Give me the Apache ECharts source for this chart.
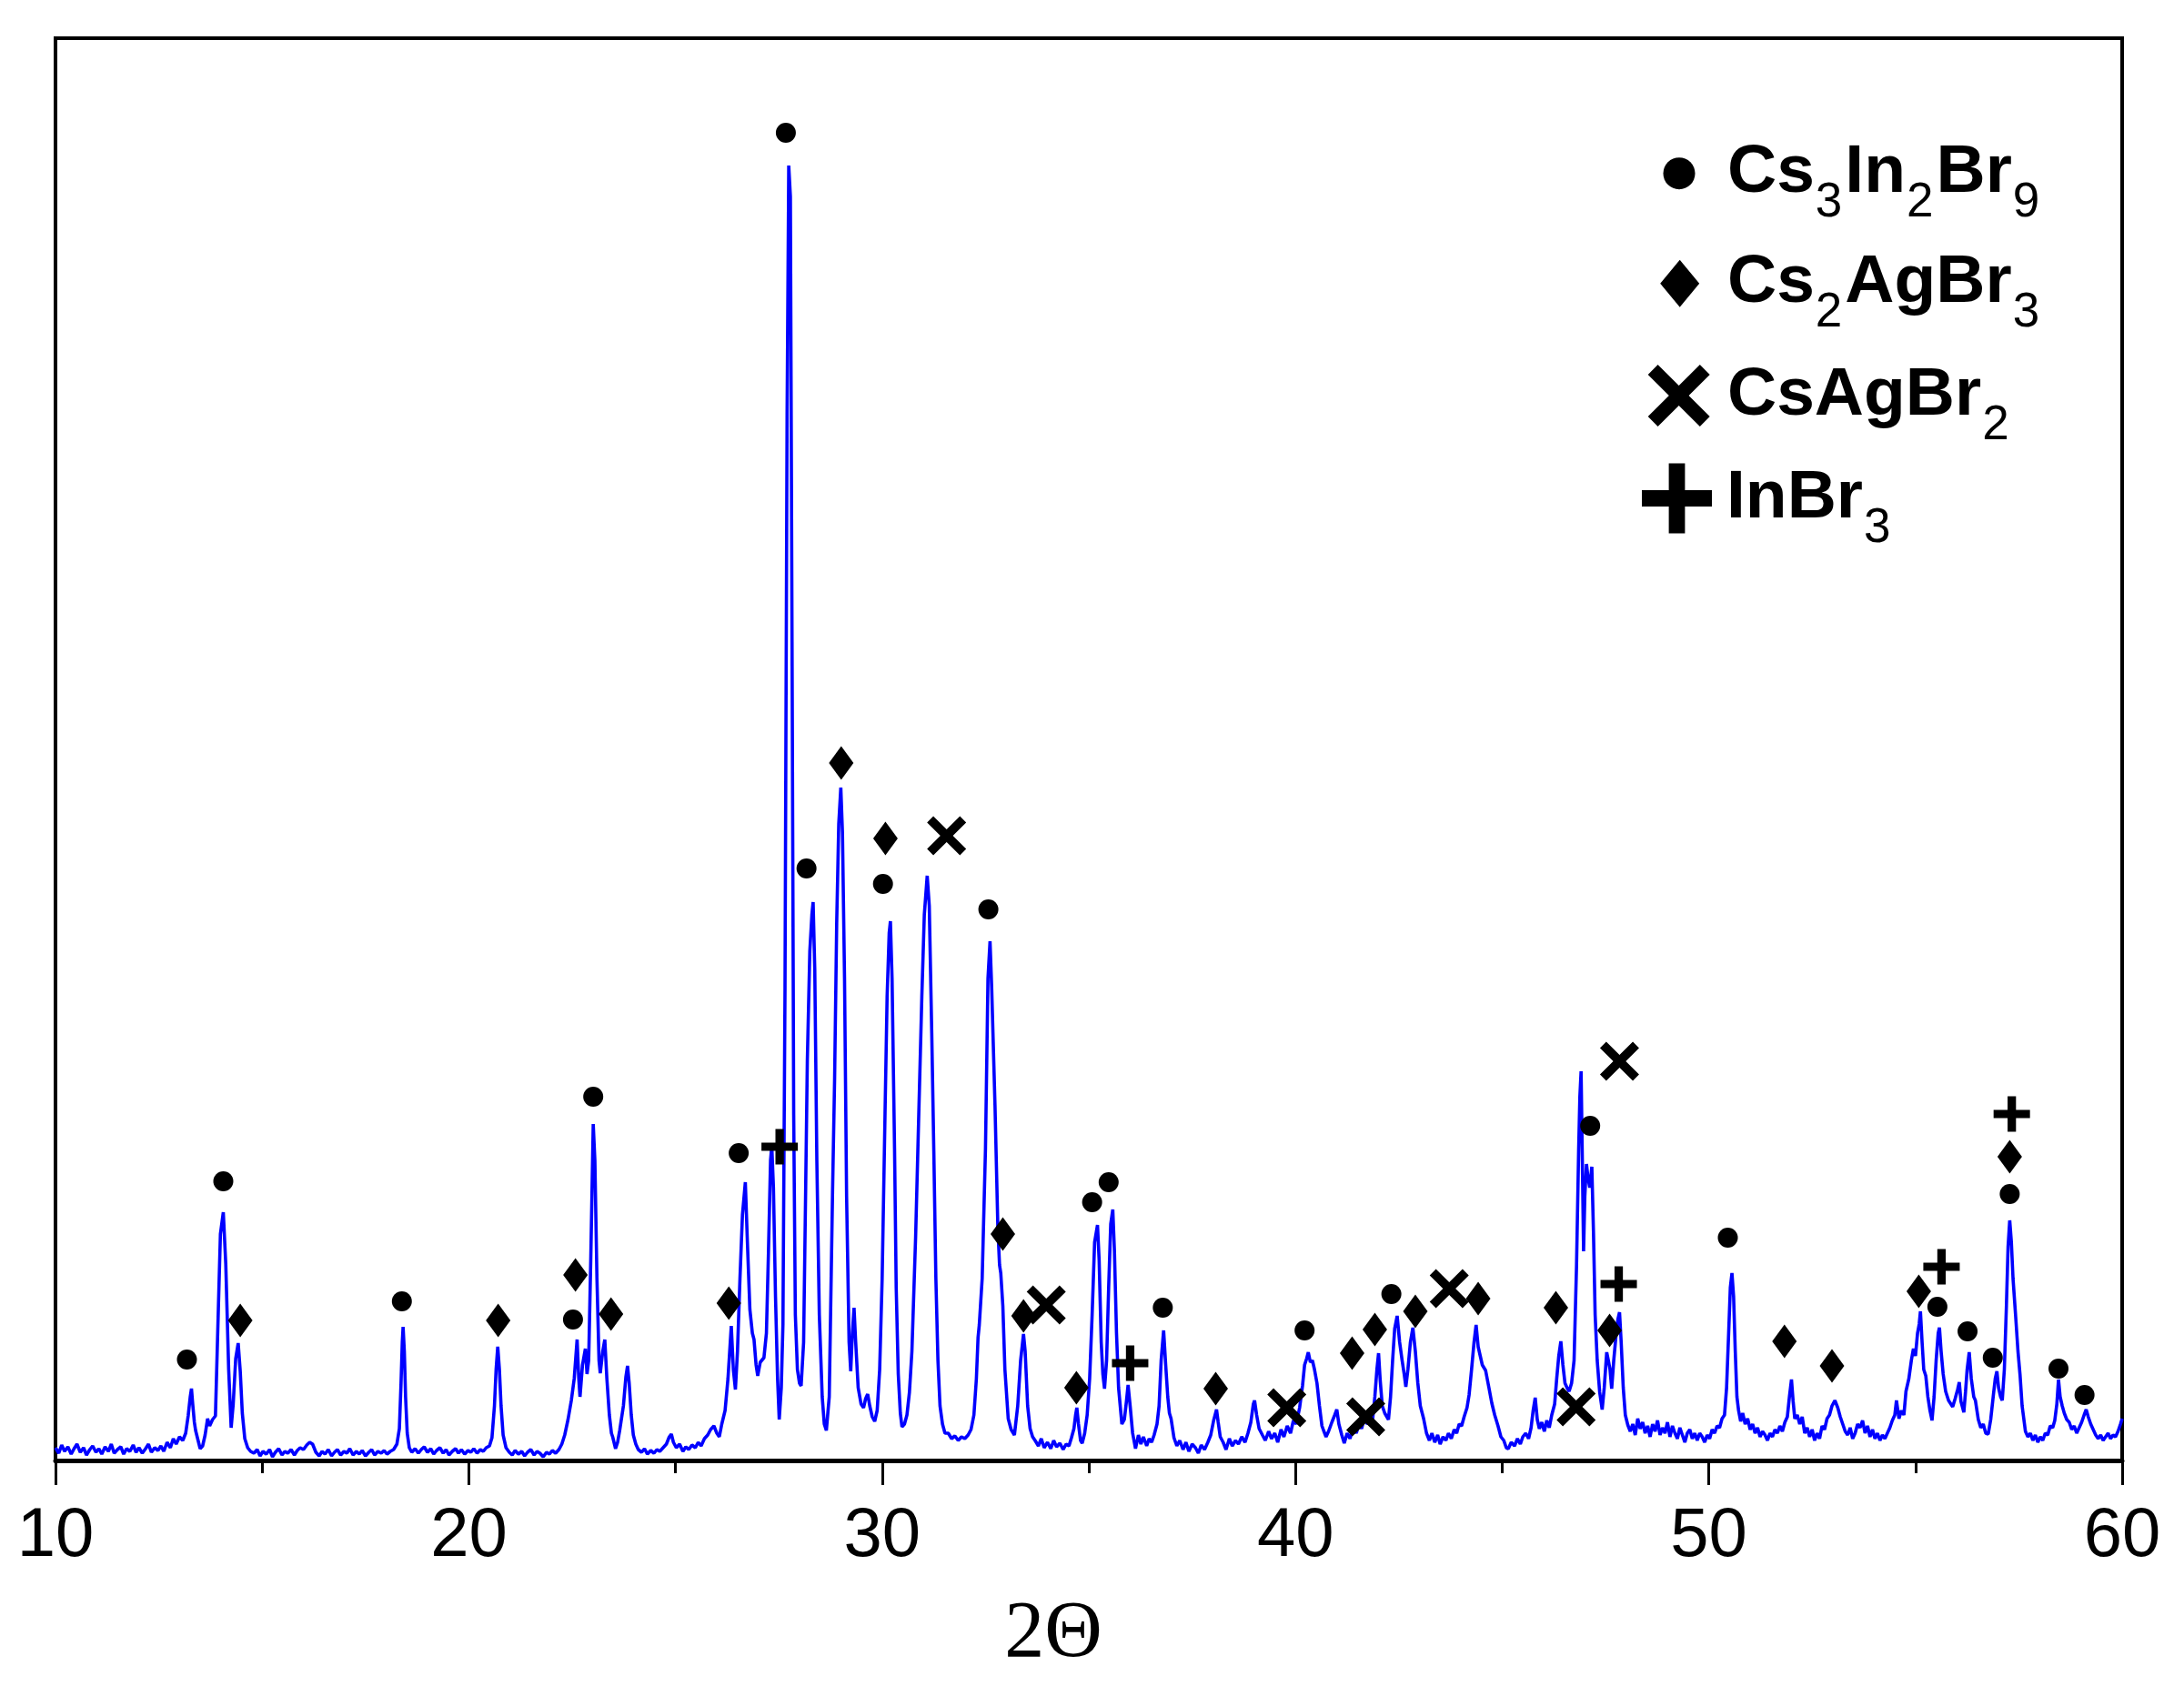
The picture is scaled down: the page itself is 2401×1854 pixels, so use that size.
<!DOCTYPE html>
<html>
<head>
<meta charset="utf-8">
<script src="https://cdn.jsdelivr.net/npm/echarts/dist/echarts.min.js"></script>
<style>html,body{margin:0;padding:0;background:#fff}#chart{width:2401px;height:1854px}</style>
</head>
<body>
<div id="chart"></div>
<script>
// ---- X-ray diffraction pattern, [2theta, intensity] ----
const pattern10to15 = [[10.0,14],[10.08,8],[10.15,17],[10.22,10],[10.3,15],[10.38,7],[10.45,13],[10.52,18],[10.6,9],[10.68,14],[10.75,6],[10.83,12],[10.9,16],[10.98,9],[11.05,13],[11.12,7],[11.2,15],[11.28,10],[11.35,18],[11.42,8],[11.5,12],[11.58,15],[11.65,7],[11.72,13],[11.8,10],[11.88,17],[11.95,9],[12.02,14],[12.1,8],[12.18,13],[12.25,18],[12.32,9],[12.4,14],[12.48,11],[12.55,16],[12.62,10],[12.7,20],[12.78,14],[12.85,24],[12.92,18],[13.0,26],[13.08,22],[13.15,30],[13.21,49],[13.26,70],[13.29,79],[13.32,62],[13.36,42],[13.39,33],[13.45,22],[13.5,13],[13.56,16],[13.62,28],[13.68,46],[13.73,38],[13.8,45],[13.87,49],[13.94,166],[13.99,249],[14.06,273],[14.12,216],[14.19,100],[14.25,36],[14.3,62],[14.36,112],[14.42,129],[14.47,98],[14.52,52],[14.58,24],[14.65,14],[14.72,10],[14.8,8],[14.88,12],[14.95,5]];
const pattern15to21 = [[15.02,10],[15.1,7],[15.18,12],[15.25,4],[15.32,9],[15.4,13],[15.48,6],[15.55,10],[15.62,8],[15.7,12],[15.78,6],[15.85,11],[15.92,14],[16.0,12],[16.08,17],[16.15,20],[16.22,18],[16.3,9],[16.38,5],[16.45,10],[16.52,7],[16.6,12],[16.68,5],[16.75,9],[16.82,12],[16.9,6],[16.98,10],[17.05,8],[17.12,13],[17.2,6],[17.28,10],[17.35,7],[17.42,11],[17.5,5],[17.58,9],[17.65,12],[17.72,6],[17.8,10],[17.88,8],[17.95,11],[18.02,7],[18.1,10],[18.18,12],[18.26,18],[18.32,35],[18.36,85],[18.39,130],[18.41,147],[18.44,120],[18.47,70],[18.51,30],[18.56,14],[18.62,9],[18.7,13],[18.78,8],[18.85,12],[18.92,15],[19.0,9],[19.08,13],[19.15,7],[19.22,11],[19.3,14],[19.38,8],[19.45,12],[19.52,6],[19.6,10],[19.68,13],[19.75,8],[19.82,12],[19.9,7],[19.98,11],[20.05,9],[20.12,13],[20.2,8],[20.28,12],[20.35,10],[20.42,14],[20.5,16],[20.56,25],[20.62,60],[20.66,100],[20.7,125],[20.74,100],[20.78,60],[20.83,28],[20.9,14],[20.98,9]];
const pattern21to26 = [[21.05,6],[21.12,11],[21.2,7],[21.28,10],[21.35,5],[21.42,9],[21.5,12],[21.58,6],[21.65,10],[21.72,8],[21.8,4],[21.88,9],[21.95,7],[22.02,11],[22.1,8],[22.18,12],[22.25,18],[22.32,28],[22.4,45],[22.48,66],[22.55,90],[22.62,133],[22.66,90],[22.69,70],[22.75,105],[22.82,123],[22.86,95],[22.9,110],[22.95,220],[23.01,370],[23.05,330],[23.1,200],[23.15,110],[23.18,96],[23.24,120],[23.29,133],[23.34,90],[23.4,50],[23.45,30],[23.48,26],[23.55,13],[23.6,20],[23.65,33],[23.74,60],[23.8,92],[23.84,104],[23.88,85],[23.93,50],[23.98,28],[24.04,18],[24.1,12],[24.18,9],[24.25,13],[24.32,7],[24.4,11],[24.48,8],[24.55,12],[24.62,10],[24.7,14],[24.78,18],[24.85,26],[24.9,29],[24.95,20],[25.02,14],[25.1,18],[25.18,10],[25.25,15],[25.32,12],[25.4,17],[25.48,14],[25.55,20],[25.62,16],[25.7,24],[25.78,28],[25.85,34],[25.93,38],[26.0,30],[26.06,26],[26.12,40]];
const pattern26to34 = [[26.2,55],[26.27,90],[26.35,148],[26.4,100],[26.45,78],[26.5,120],[26.56,200],[26.62,270],[26.69,306],[26.74,240],[26.8,166],[26.86,140],[26.9,133],[26.95,105],[26.99,93],[27.05,108],[27.14,113],[27.2,140],[27.25,230],[27.3,330],[27.33,346],[27.37,300],[27.42,180],[27.47,90],[27.51,45],[27.56,80],[27.6,150],[27.65,520],[27.7,1150],[27.74,1424],[27.78,1390],[27.82,900],[27.86,380],[27.9,160],[27.95,100],[28.0,85],[28.04,82],[28.1,130],[28.15,300],[28.19,440],[28.25,560],[28.3,600],[28.33,614],[28.37,540],[28.42,330],[28.48,160],[28.55,70],[28.6,40],[28.65,33],[28.72,70],[28.8,295],[28.85,420],[28.9,590],[28.95,700],[29.0,740],[29.04,690],[29.09,530],[29.14,290],[29.2,130],[29.24,98],[29.28,140],[29.32,168],[29.36,130],[29.42,80],[29.49,62],[29.55,58],[29.6,68],[29.65,73],[29.7,60],[29.76,48],[29.82,43],[29.88,55],[29.94,100],[30.0,200],[30.07,382],[30.12,510],[30.17,580],[30.2,593],[30.24,530],[30.3,343],[30.34,190],[30.39,95],[30.44,52],[30.48,37],[30.54,40],[30.6,50],[30.66,75],[30.72,120],[30.81,246],[30.88,370],[30.96,510],[31.02,600],[31.09,643],[31.14,610],[31.2,470],[31.25,340],[31.3,200],[31.35,110],[31.4,60],[31.46,40],[31.52,30],[31.6,30],[31.68,24],[31.76,27],[31.84,22],[31.92,26],[32.0,24],[32.08,28],[32.15,34],[32.22,50],[32.28,90],[32.32,135],[32.35,149],[32.42,200],[32.5,343],[32.56,530],[32.61,571],[32.65,520],[32.73,391],[32.8,255],[32.84,215],[32.87,206],[32.92,170],[32.97,100],[33.05,46],[33.12,34],[33.2,28],[33.28,60],[33.35,110],[33.42,139],[33.46,120],[33.52,60],[33.58,35],[33.64,26]];
const pattern34to41 = [[33.7,22],[33.78,16],[33.85,24],[33.92,14],[34.0,20],[34.08,13],[34.15,22],[34.22,15],[34.3,19],[34.38,12],[34.45,18],[34.52,16],[34.58,25],[34.64,35],[34.68,50],[34.71,58],[34.75,40],[34.8,22],[34.84,19],[34.9,30],[34.96,50],[35.02,90],[35.08,160],[35.14,240],[35.21,259],[35.25,220],[35.3,130],[35.34,95],[35.38,79],[35.43,110],[35.48,190],[35.53,260],[35.58,276],[35.62,230],[35.67,140],[35.72,80],[35.8,40],[35.86,45],[35.91,65],[35.95,83],[36.0,60],[36.06,30],[36.13,13],[36.2,28],[36.26,18],[36.32,26],[36.4,16],[36.46,24],[36.52,20],[36.58,28],[36.65,40],[36.7,60],[36.75,110],[36.81,143],[36.86,105],[36.91,70],[36.95,52],[36.99,46],[37.06,25],[37.13,16],[37.2,22],[37.28,12],[37.35,20],[37.42,10],[37.5,18],[37.58,14],[37.65,8],[37.72,17],[37.8,12],[37.88,20],[37.95,28],[38.02,44],[38.09,56],[38.13,42],[38.18,26],[38.25,20],[38.32,12],[38.4,24],[38.47,16],[38.55,22],[38.62,18],[38.7,26],[38.78,20],[38.85,30],[38.92,42],[38.98,62],[39.01,66],[39.06,50],[39.12,35],[39.2,28],[39.27,22],[39.35,32],[39.42,24],[39.5,30],[39.57,20],[39.65,34],[39.72,26],[39.8,38],[39.88,30],[39.95,44],[40.02,40],[40.1,58],[40.17,82],[40.22,105],[40.27,112],[40.31,119],[40.36,108],[40.41,110],[40.46,100],[40.52,85],[40.58,60],[40.64,38],[40.68,33],[40.74,26],[40.8,32],[40.88,42],[40.95,50],[41.0,56],[41.05,40],[41.12,28],[41.18,19],[41.25,30],[41.32,24],[41.4,38],[41.47,30],[41.54,40],[41.6,35],[41.67,48],[41.74,40],[41.8,45],[41.86,42],[41.92,70],[41.97,100],[42.01,118],[42.05,88],[42.1,60]];
const pattern42to48 = [[42.16,52],[42.25,45],[42.3,70],[42.35,110],[42.4,145],[42.46,159],[42.52,130],[42.58,110],[42.63,95],[42.67,81],[42.72,100],[42.78,130],[42.84,146],[42.9,120],[42.96,85],[43.02,60],[43.1,46],[43.17,30],[43.24,22],[43.3,30],[43.37,20],[43.44,28],[43.5,18],[43.57,26],[43.64,22],[43.7,30],[43.77,24],[43.84,34],[43.9,30],[43.96,40],[44.02,38],[44.08,48],[44.15,58],[44.2,72],[44.26,100],[44.32,130],[44.37,149],[44.42,125],[44.47,115],[44.52,105],[44.6,99],[44.68,80],[44.75,63],[44.82,50],[44.9,38],[44.97,26],[45.04,22],[45.1,14],[45.15,13],[45.22,20],[45.3,16],[45.37,24],[45.44,18],[45.5,26],[45.57,30],[45.64,24],[45.7,36],[45.75,55],[45.8,69],[45.85,45],[45.9,35],[45.96,42],[46.02,32],[46.08,44],[46.14,36],[46.2,50],[46.27,62],[46.32,90],[46.37,115],[46.42,131],[46.47,105],[46.52,85],[46.57,80],[46.62,76],[46.68,85],[46.74,110],[46.8,215],[46.85,340],[46.88,400],[46.91,428],[46.94,330],[46.97,230],[47.0,290],[47.04,326],[47.08,310],[47.12,300],[47.17,323],[47.21,250],[47.25,160],[47.3,110],[47.36,75],[47.42,56],[47.47,80],[47.53,119],[47.57,110],[47.61,100],[47.65,79],[47.7,110],[47.76,140],[47.8,155],[47.84,163],[47.88,130],[47.93,80],[47.98,50],[48.04,39],[48.1,32]];
const pattern48to54 = [[48.16,40],[48.22,28],[48.28,46],[48.34,35],[48.4,42],[48.46,30],[48.52,38],[48.58,26],[48.64,40],[48.7,32],[48.76,44],[48.82,28],[48.88,36],[48.94,30],[49.0,42],[49.06,26],[49.12,38],[49.18,30],[49.24,24],[49.3,36],[49.36,28],[49.42,20],[49.48,30],[49.54,34],[49.6,24],[49.66,30],[49.72,22],[49.78,30],[49.84,26],[49.9,20],[49.96,28],[50.02,24],[50.08,34],[50.14,30],[50.2,38],[50.26,36],[50.32,46],[50.38,50],[50.43,80],[50.48,140],[50.52,190],[50.56,206],[50.6,180],[50.64,120],[50.68,70],[50.72,55],[50.77,43],[50.82,52],[50.88,40],[50.94,46],[51.0,34],[51.06,40],[51.12,30],[51.18,36],[51.24,26],[51.3,32],[51.36,28],[51.42,22],[51.48,30],[51.54,26],[51.6,34],[51.66,30],[51.72,38],[51.78,32],[51.84,42],[51.9,48],[51.95,70],[52.0,89],[52.04,65],[52.08,46],[52.14,50],[52.2,40],[52.26,48],[52.32,30],[52.38,36],[52.44,26],[52.5,34],[52.56,22],[52.62,30],[52.68,24],[52.74,38],[52.8,34],[52.86,46],[52.92,50],[52.98,60],[53.05,66],[53.12,58],[53.18,48],[53.24,40],[53.3,32],[53.36,28],[53.42,36],[53.48,24],[53.54,30],[53.6,40],[53.66,36],[53.72,44],[53.78,30],[53.84,38],[53.9,26],[53.96,34],[54.02,24],[54.08,30],[54.14,22],[54.2,28],[54.26,24],[54.32,30],[54.38,36],[54.44,44],[54.5,50]];
const pattern54to60 = [[54.54,66],[54.6,46],[54.66,55],[54.72,50],[54.77,76],[54.84,90],[54.9,110],[54.95,123],[55.0,115],[55.05,140],[55.09,150],[55.12,164],[55.16,130],[55.2,100],[55.25,93],[55.3,70],[55.35,55],[55.4,44],[55.45,70],[55.5,110],[55.55,140],[55.58,146],[55.62,120],[55.67,95],[55.73,76],[55.8,66],[55.9,59],[55.96,68],[56.02,78],[56.06,86],[56.1,65],[56.17,53],[56.21,75],[56.25,100],[56.3,119],[56.35,90],[56.41,70],[56.45,66],[56.52,45],[56.58,36],[56.64,40],[56.7,30],[56.76,29],[56.82,45],[56.88,70],[56.93,90],[56.97,98],[57.01,80],[57.06,70],[57.1,66],[57.15,100],[57.2,170],[57.24,235],[57.28,264],[57.32,240],[57.36,200],[57.42,161],[57.48,120],[57.53,94],[57.58,60],[57.66,32],[57.72,26],[57.78,30],[57.84,22],[57.9,28],[57.96,20],[58.02,26],[58.08,22],[58.14,30],[58.2,28],[58.26,38],[58.32,36],[58.37,44],[58.42,62],[58.46,89],[58.5,70],[58.55,60],[58.6,52],[58.66,45],[58.72,42],[58.78,34],[58.84,38],[58.9,30],[58.96,36],[59.02,42],[59.08,50],[59.13,56],[59.18,48],[59.24,40],[59.3,34],[59.36,28],[59.42,24],[59.48,28],[59.54,22],[59.6,26],[59.66,30],[59.72,24],[59.78,28],[59.84,26],[59.9,32],[59.96,40],[60.0,46]];

// ---- Phase markers, [2theta, intensity] ----
const cs3in2br9Peaks = [[13.18,111],[14.06,307],[18.38,175],[22.52,155],[23.01,400],[26.53,338],[27.67,1460],[28.17,651],[30.02,634],[32.57,606],[35.08,284],[35.48,306],[36.79,168],[40.22,143],[42.32,183],[47.13,368],[50.46,245],[55.53,169],[56.26,142],[56.87,113],[57.28,293],[58.46,101],[59.09,72]];
const cs2agbr3Peaks = [[14.47,154],[20.71,154],[22.58,204],[23.44,161],[26.29,173],[29.01,767],[30.08,684],[32.92,249],[33.42,159],[34.70,80],[38.07,79],[41.37,118],[41.92,144],[42.90,164],[44.42,178],[46.30,168],[47.60,143],[51.83,131],[52.98,104],[55.08,186],[57.28,334]];
const csagbr2Peaks = [[31.56,687],[33.97,171],[39.79,58],[41.70,48],[43.72,189],[46.79,59],[47.84,439]];
const inbr3Peaks = [[27.52,345],[36.00,107],[47.82,194],[55.63,213],[57.33,381]];

const phaseNames = ['Cs3In2Br9', 'Cs2AgBr3', 'CsAgBr2', 'InBr3'];
const phaseLabels = {
  'Cs3In2Br9': '{b|Cs}{s|3}{b|In}{s|2}{b|Br}{s|9}',
  'Cs2AgBr3': '{b|Cs}{s|2}{b|AgBr}{s|3}',
  'CsAgBr2': '{b|CsAgBr}{s|2}',
  'InBr3': '{b|InBr}{s|3}'
};
const xTickMin = 10, xTickMax = 60, xTickStep = 10;
const xAxisTitle = '2\u0398';

// ---- symbols ----
const crossPath = 'path://M1.6,0L5,3.4L8.4,0L10,1.6L6.6,5L10,8.4L8.4,10L5,6.6L1.6,10L0,8.4L3.4,5L0,1.6Z';
const plusPath = 'path://M5,0H8V5H13V8H8V13H5V8H0V5H5Z';

const xrd = [].concat(pattern10to15, pattern15to21, pattern21to26, pattern26to34, pattern34to41, pattern42to48, pattern48to54, pattern54to60);

const richStyles = {
  b: {fontFamily: 'Liberation Sans', fontWeight: 'bold', fontSize: 75, color: '#000', padding: [0, 0, 22, 0], verticalAlign: 'bottom'},
  s: {fontFamily: 'Liberation Sans', fontWeight: 'normal', fontSize: 53, color: '#000', padding: [0, 3, 0, 1], verticalAlign: 'bottom'}
};

function makeLegend(name, icon, w, h, cx, cy, textX) {
  const left = cx - w / 2;
  const padL = textX - (left + w + 5);
  const halfRect = Math.max(h, 75) / 2;
  return {
    data: [{name: name, icon: icon}],
    orient: 'vertical',
    left: left,
    top: cy - halfRect,
    padding: 0,
    itemWidth: w,
    itemHeight: h,
    selectedMode: false,
    formatter: function (n) { return phaseLabels[n]; },
    textStyle: {padding: [22, 0, 0, padL], rich: richStyles},
    itemStyle: {color: '#000', opacity: 1, borderWidth: 0}
  };
}

const chart = echarts.init(document.getElementById('chart'), null, {renderer: 'canvas'});
chart.setOption({
  animation: false,
  backgroundColor: '#fff',
  grid: {left: 61, right: 68, top: 42, bottom: 248, show: true, borderColor: '#000', borderWidth: 4, containLabel: false},
  legend: [
    makeLegend(phaseNames[0], 'circle', 35, 35, 1846, 190.7, 1899),
    makeLegend(phaseNames[1], 'diamond', 43, 52, 1846.7, 311.7, 1899),
    makeLegend(phaseNames[2], crossPath, 68, 68, 1845.7, 435, 1899),
    makeLegend(phaseNames[3], plusPath, 78, 77, 1844, 548, 1898.5)
  ],
  xAxis: {
    type: 'value', min: xTickMin, max: xTickMax, interval: xTickStep,
    name: xAxisTitle, nameLocation: 'middle', nameGap: 148,
    nameTextStyle: {fontFamily: 'Liberation Serif', fontSize: 88, color: '#000', padding: [0, 78, 0, 0]},
    axisLine: {show: true, lineStyle: {color: '#000', width: 5}},
    axisTick: {show: true, inside: false, length: 27, lineStyle: {color: '#000', width: 3}},
    minorTick: {show: true, splitNumber: 2, length: 14, lineStyle: {color: '#000', width: 3}},
    axisLabel: {fontFamily: 'Liberation Sans', fontSize: 76, color: '#000', margin: 46},
    splitLine: {show: false}
  },
  yAxis: {
    type: 'value', min: 0, max: 1564,
    axisLine: {show: false}, axisTick: {show: false}, axisLabel: {show: false}, splitLine: {show: false}
  },
  series: [
    {type: 'line', data: xrd, showSymbol: false, symbol: 'none', lineStyle: {color: '#0000ff', width: 3.6}, z: 2, silent: true},
    {name: phaseNames[0], type: 'scatter', data: cs3in2br9Peaks, symbol: 'circle', symbolSize: 22, itemStyle: {color: '#000', opacity: 1}, z: 5},
    {name: phaseNames[1], type: 'scatter', data: cs2agbr3Peaks, symbol: 'diamond', symbolSize: [27, 37], itemStyle: {color: '#000', opacity: 1}, z: 5},
    {name: phaseNames[2], type: 'scatter', data: csagbr2Peaks, symbol: crossPath, symbolSize: 43, itemStyle: {color: '#000', opacity: 1}, z: 5},
    {name: phaseNames[3], type: 'scatter', data: inbr3Peaks, symbol: plusPath, symbolSize: [40, 39], itemStyle: {color: '#000', opacity: 1}, z: 5}
  ]
});
</script>
</body>
</html>
